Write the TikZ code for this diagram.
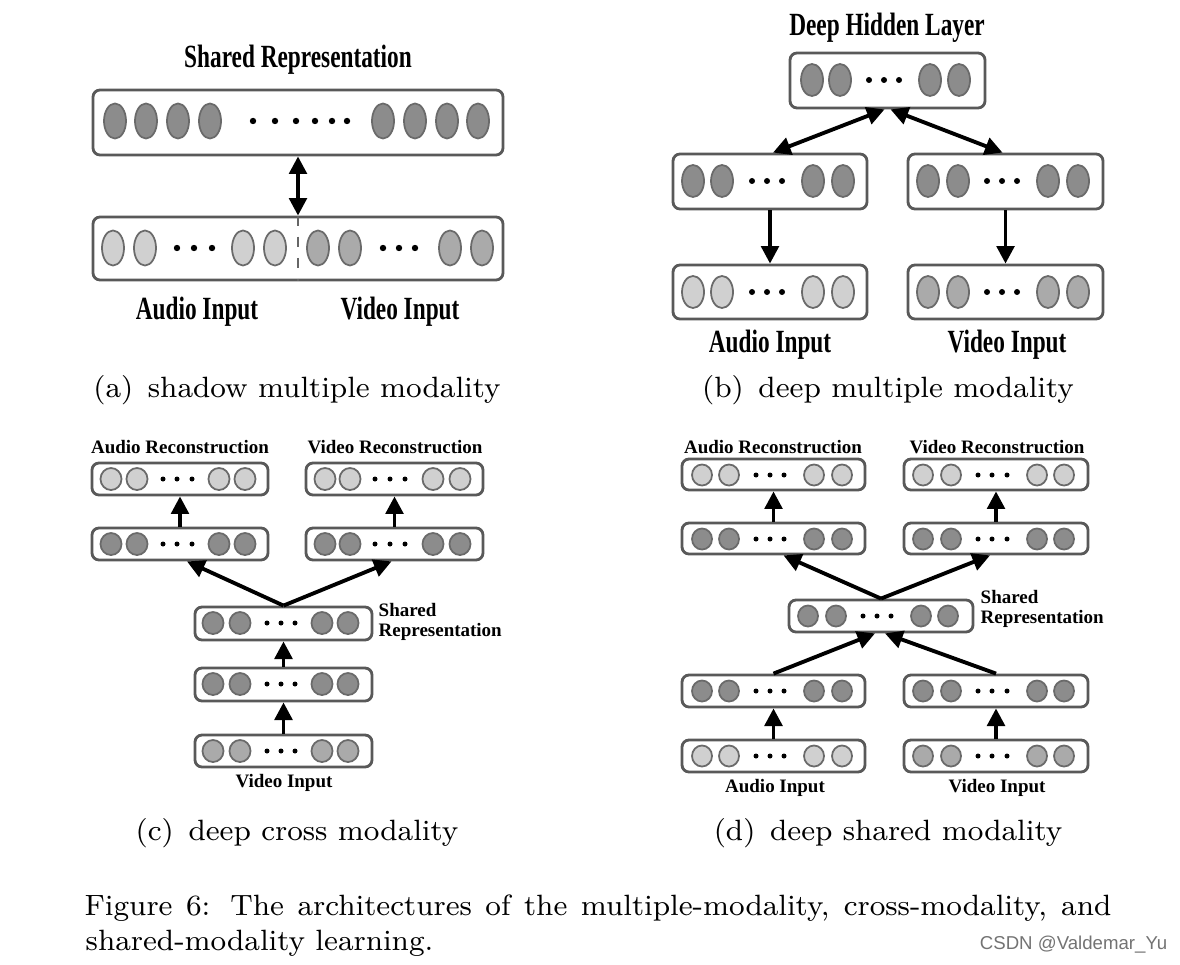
\documentclass[tikz,border=0pt]{standalone}
\usepackage{fontspec}
\newfontfamily\labfont{Liberation Serif}
\newfontfamily\wmfont{Liberation Sans}
\usetikzlibrary{fit,calc,arrows.meta}
\definecolor{cdark}{HTML}{8C8C8C}
\definecolor{cmed}{HTML}{AAAAAA}
\definecolor{clight}{HTML}{D0D0D0}
\definecolor{cstroke}{HTML}{6A6A6A}
\newcommand\circs[5]{\foreach \xx in {#5}{\filldraw[fill=#2,draw=cstroke,line width=0.5pt] (\xx,#1) ellipse[x radius=#3mm, y radius=#4mm];}}
\newcommand\dts[3]{\foreach \xx in {#3}{\fill (\xx,#1) circle[radius=#2mm];}}
\newcommand\cond[1]{\scalebox{0.72}[1]{#1}}
\begin{document}
\begin{tikzpicture}[x=0.01cm,y=-0.01cm,
  box/.style={draw=black!65,line width=0.8pt,rounded corners=2pt,inner sep=0pt,fill=white},
  arr/.style={line width=1.1pt,-{Triangle[width=5pt,length=5pt]}},
  arr2/.style={line width=1.1pt,{Triangle[width=5pt,length=5pt]}-{Triangle[width=5pt,length=5pt]}},
  big/.style={font=\labfont\fontsize{9.2}{10}\selectfont\bfseries},
  sml/.style={font=\labfont\fontsize{5.4}{6}\selectfont\bfseries},
  capt/.style={font=\fontsize{8.35}{10}\selectfont}]
\useasboundingbox (0,0) rectangle (1180,964);
% ---------- (a)
\node[box,fit={(93,90)(503,155)}] (aT) {};
\node[box,fit={(93,217)(503,280)}] (aB) {};
\circs{121}{cdark}{1.1}{1.75}{115,146,178,210,383,415,447,478}
\dts{121}{0.32}{253,275,296,315,332,347}
\circs{248}{clight}{1.1}{1.75}{113,145,243,275}
\circs{248}{cmed}{1.1}{1.75}{318,350,450,482}
\dts{248}{0.32}{177,194,212,383,399,415}
\draw[black!60,dashed,line width=0.8pt] (aB.north) -- (aB.south);
\draw[arr2] (aT.south) -- (aB.north);
\node[big] (aTl) at (298,60) {\cond{Shared Representation}};
\node[big] (aAl) at (197,312) {\cond{Audio Input}};
\node[big] (aVl) at (400,312) {\cond{Video Input}};
\node[capt] (acap) at (297,390) {(a)\enspace shadow multiple modality};
% ---------- (b)
\node[box,fit={(790,53)(985,108)}] (bT) {};
\node[box,fit={(673,154)(867,209)}] (bL1) {};
\node[box,fit={(908,154)(1103,209)}] (bR1) {};
\node[box,fit={(673,265)(867,319)}] (bL2) {};
\node[box,fit={(908,265)(1103,319)}] (bR2) {};
\circs{80}{cdark}{1.1}{1.6}{812,840,930,959}
\dts{80}{0.3}{869,884,899}
\circs{181}{cdark}{1.1}{1.6}{693,722,813,843,928,958,1048,1078}
\dts{181}{0.3}{752,767,782,987,1002,1017}
\circs{292}{clight}{1.1}{1.6}{693,722,813,843}
\circs{292}{cmed}{1.1}{1.6}{928,958,1048,1078}
\dts{292}{0.3}{752,767,782,987,1002,1017}
\draw[arr2] ($(bT.south)+(-3,0)$) -- ($(bL1.north)+(3,0)$);
\draw[arr2] ($(bT.south)+(3,0)$) -- ($(bR1.north)+(-3,0)$);
\draw[arr] (bL1.south) -- (bL2.north);
\draw[arr] (bR1.south) -- (bR2.north);
\node[big] (bTl) at (887,28) {\cond{Deep Hidden Layer}};
\node[big] (bAl) at (770,345) {\cond{Audio Input}};
\node[big] (bVl) at (1007,345) {\cond{Video Input}};
\node[capt] (bcap) at (888,390) {(b)\enspace deep multiple modality};
% ---------- (c)
\node[box,fit={(92,463)(268,495)}] (cL1) {};
\node[box,fit={(306,463)(483,495)}] (cR1) {};
\node[box,fit={(92,528)(268,560)}] (cL2) {};
\node[box,fit={(306,528)(483,560)}] (cR2) {};
\node[box,fit={(195,607)(372,640)}] (cS) {};
\node[box,fit={(195,668)(372,701)}] (c4) {};
\node[box,fit={(195,735)(372,767)}] (cI) {};
\circs{479}{clight}{1.05}{1.1}{111,137,219,245,325,350,433,460}
\dts{479}{0.25}{163,177,192,375,390,405}
\circs{544}{cdark}{1.05}{1.1}{111,137,219,245,325,350,433,460}
\dts{544}{0.25}{163,177,192,375,390,405}
\circs{623}{cdark}{1.05}{1.1}{213,240,322,348}
\dts{623}{0.25}{267,281,295}
\circs{684}{cdark}{1.05}{1.1}{213,240,322,348}
\dts{684}{0.25}{267,281,295}
\circs{751}{cmed}{1.05}{1.1}{213,240,322,348}
\dts{751}{0.25}{267,281,295}
\draw[arr] (cL2.north) -- (cL1.south);
\draw[arr] (cR2.north) -- (cR1.south);
\draw[arr] (cS.north) -- ($(cL2.south)+(7,0)$);
\draw[arr] (cS.north) -- ($(cR2.south)+(-3,0)$);
\draw[arr] (c4.north) -- (cS.south);
\draw[arr] (cI.north) -- (c4.south);
\node[sml] (cAl) at (180,447) {Audio Reconstruction};
\node[sml] (cVl) at (395,447) {Video Reconstruction};
\node[sml,anchor=north west,align=left,inner sep=0pt] (cSl) at (378,603) {Shared\\[-0.5pt]Representation};
\node[sml] (cIl) at (284,783) {Video Input};
\node[capt] (ccap) at (297,833) {(c)\enspace deep cross modality};
% ---------- (d)
\node[box,fit={(682,459)(865,490)}] (dL1) {};
\node[box,fit={(904,459)(1088,490)}] (dR1) {};
\node[box,fit={(682,523)(865,554)}] (dL2) {};
\node[box,fit={(904,523)(1088,554)}] (dR2) {};
\node[box,fit={(789,600)(973,632)}] (dS) {};
\node[box,fit={(682,675)(865,707)}] (dL4) {};
\node[box,fit={(904,675)(1088,707)}] (dR4) {};
\node[box,fit={(682,740)(865,772)}] (dL5) {};
\node[box,fit={(904,740)(1088,772)}] (dR5) {};
\circs{475}{clight}{1.0}{1.05}{702,729,814,842,923,951,1037,1064}
\dts{475}{0.25}{756,770,784,978,992,1007}
\circs{539}{cdark}{1.0}{1.05}{702,729,814,842,923,951,1037,1064}
\dts{539}{0.25}{756,770,784,978,992,1007}
\circs{616}{cdark}{1.0}{1.05}{808,836,921,948}
\dts{616}{0.25}{863,877,891}
\circs{691}{cdark}{1.0}{1.05}{702,729,814,842,923,951,1037,1064}
\dts{691}{0.25}{756,770,784,978,992,1007}
\circs{756}{clight}{1.0}{1.05}{702,729,814,842}
\circs{756}{cmed}{1.0}{1.05}{923,951,1037,1064}
\dts{756}{0.25}{756,770,784,978,992,1007}
\draw[arr] (dL2.north) -- (dL1.south);
\draw[arr] (dR2.north) -- (dR1.south);
\draw[arr] (dS.north) -- ($(dL2.south)+(10,0)$);
\draw[arr] (dS.north) -- ($(dR2.south)+(-6,0)$);
\draw[arr] (dL4.north) -- ($(dS.south)+(-6,0)$);
\draw[arr] (dR4.north) -- ($(dS.south)+(4,0)$);
\draw[arr] (dL5.north) -- (dL4.south);
\draw[arr] (dR5.north) -- (dR4.south);
\node[sml] (dAl) at (773,447) {Audio Reconstruction};
\node[sml] (dVl) at (997,447) {Video Reconstruction};
\node[sml,anchor=north west,align=left,inner sep=0pt] (dSl) at (980,590) {Shared\\[-0.5pt]Representation};
\node[sml] (dAi) at (775,788) {Audio Input};
\node[sml] (dVi) at (997,788) {Video Input};
\node[capt] (dcap) at (888,833) {(d)\enspace deep shared modality};
% ---------- caption
\node[capt] (fc1) at (598,908) {\makebox[292pt][s]{Figure 6: The architectures of the multiple-modality, cross-modality, and}};
\node[capt,anchor=west,inner sep=0pt] (fc2) at (85,943) {shared-modality learning.};
\node[font=\wmfont\fontsize{5.3}{6}\selectfont,text=black!55,anchor=east,inner sep=0pt] (wm) at (1168,945) {CSDN @Valdemar\_Yu};
\end{tikzpicture}
\end{document}
